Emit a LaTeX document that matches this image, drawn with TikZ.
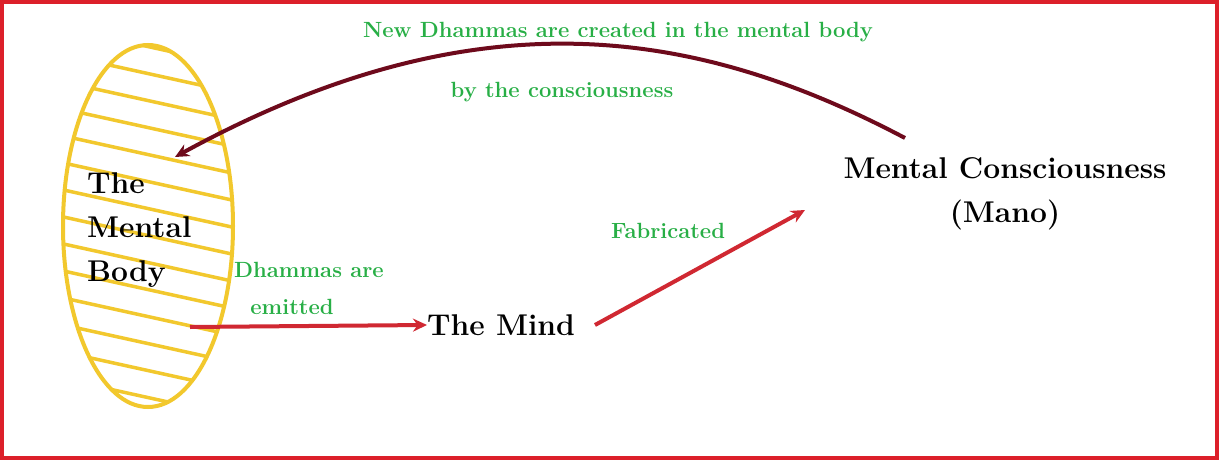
\documentclass[tikz,border=0pt]{standalone}
\usepackage{fontspec}
\usetikzlibrary{arrows.meta}
\definecolor{bred}{RGB}{220,32,42}
\definecolor{ared}{RGB}{208,40,50}
\definecolor{yel}{RGB}{242,200,45}
\definecolor{brn}{RGB}{110,10,28}
\definecolor{grn}{RGB}{40,175,70}
\begin{document}
\begin{tikzpicture}[x=1pt,y=-1pt,
  blk/.style={font=\fontsize{30}{44}\selectfont\bfseries,text=black,inner sep=0pt},
  gtx/.style={font=\fontsize{22}{26}\selectfont\bfseries,text=grn,inner sep=0pt},
  arr/.style={line width=4pt,-{Stealth[length=14pt,width=13pt]}}]
\useasboundingbox (0,0) rectangle (1219,460);
\fill[white] (0,0) rectangle (1219,460);
\draw[bred,line width=4pt] (2,2) rectangle (1217,458);
\begin{scope}
\clip (148,226) ellipse [x radius=85, y radius=181];
\foreach \y in {20,47,...,450} {
  \draw[yel,line width=3.5pt] (50,\y-22) -- (250,\y+22);
}
\end{scope}
\draw[yel,line width=4pt] (148,226) ellipse [x radius=85, y radius=181];
\node[blk,anchor=north west,align=left] (body) at (87,172) {The\\Mental\\Body};
\node[blk,anchor=west] (mind) at (427,325) {The Mind};
\node[blk,align=center] (mano) at (1005,194) {Mental Consciousness\\(Mano)};
\coordinate (bodyout) at (190,327);
\coordinate (bodyin) at (175,157);
\coordinate (manoout) at (905,138);
\draw[arr,ared] (bodyout) -- (mind.west);
\draw[arr,ared] (595,325) -- (805,210);
\draw[arr,brn] (manoout) .. controls (700,30) and (480,-10) .. (bodyin);
\node[gtx] (t1) at (618,32) {New Dhammas are created in the mental body};
\node[gtx] (t2) at (562,92) {by the consciousness};
\node[gtx] (t3) at (668,231) {Fabricated};
\node[gtx,anchor=west] (t4) at (234,270) {Dhammas are};
\node[gtx] (t5) at (292,307) {emitted};
\end{tikzpicture}
\end{document}
